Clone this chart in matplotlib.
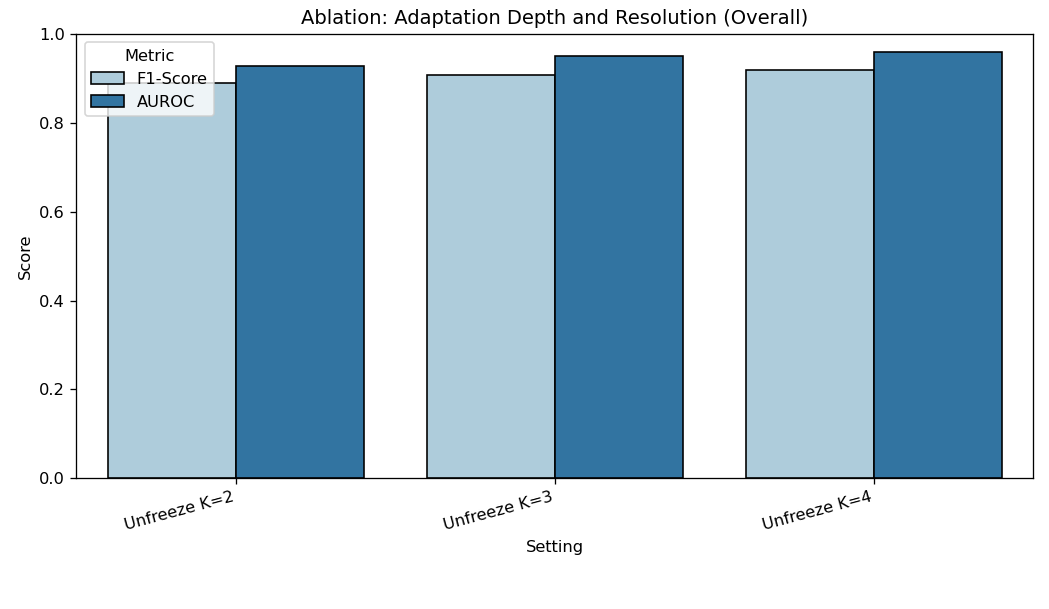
import matplotlib
matplotlib.use("Agg")
import matplotlib.pyplot as plt
import pandas as pd
import seaborn as sns

settings = ["Unfreeze K=2", "Unfreeze K=3", "Unfreeze K=4"]
f1_scores = [0.890, 0.908, 0.919]
auroc_scores = [0.929, 0.950, 0.960]

df = pd.DataFrame({
    "Setting": settings * 2,
    "Score": f1_scores + auroc_scores,
    "Metric": ["F1-Score"] * 3 + ["AUROC"] * 3,
})

dpi = 117
fig = plt.figure(figsize=(1049 / dpi, 609 / dpi), dpi=dpi)
ax = fig.add_subplot(111)
sns.barplot(data=df, x="Setting", y="Score", hue="Metric",
            palette="Paired", edgecolor="black", ax=ax)
ax.set_ylim(0, 1.0)
ax.set_title("Ablation: Adaptation Depth and Resolution (Overall)")
ax.set_xlabel("Setting")
ax.set_ylabel("Score")
plt.xticks(rotation=15, ha="right")
ax.legend(title="Metric", loc="upper left")
fig.subplots_adjust(left=0.0729, right=0.9852, top=0.9442, bottom=0.2146)
fig.savefig("out.png", dpi=dpi)
